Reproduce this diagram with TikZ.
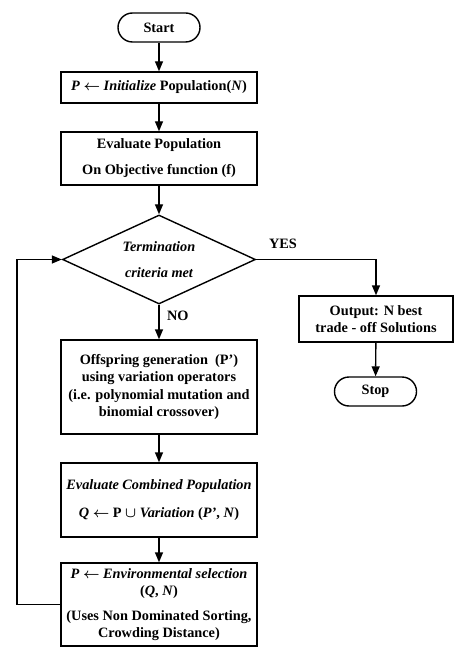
\documentclass[tikz,border=0pt]{standalone}
\usepackage{fontspec}
\setmainfont{Liberation Serif}
\usetikzlibrary{shapes.geometric,arrows.meta}

\begin{document}
\begin{tikzpicture}[x=1pt,y=-1pt,line width=1.4pt,
		font=\bfseries\boldmath\fontsize{14.3}{17.5}\selectfont,
		box/.style={draw,rectangle,minimum width=196pt,align=center,inner sep=0pt},
		endbox/.style={draw,rectangle,rounded corners=14.5pt,minimum width=82pt,minimum height=29pt,inner sep=0pt},
		flow/.style={-{Triangle[length=10pt,width=8pt]}}]
			\useasboundingbox (0,0) rectangle (474,668);
			\node[endbox] (start) at (159,27.5) {Start};
			\node[box,minimum height=31pt] (init) at (159,87.5) {\textit{P} $\leftarrow$ \textit{Initialize} Population(\textit{N})};
			\node[box,minimum height=53pt] (eval) at (159,158.5) {Evaluate Population\\[8.5pt]On Objective function (f)};
			\node[draw,diamond,aspect=2.17,minimum width=193pt,minimum height=89pt,inner sep=0pt,align=center,font=\bfseries\itshape\fontsize{14.3}{17.5}\selectfont] (crit) at (159,259.5) {Termination\\[8.5pt]criteria met};
			\node[box,minimum width=154pt,minimum height=46pt] (out) at (376,319) {Output: N best\\trade - off Solutions};
			\node[endbox] (stop) at (375.5,391.5) {Stop};
			\node[box,minimum height=94pt] (off) at (159,387) {Offspring generation~~(P’)\\using variation operators\\(i.e. polynomial mutation and\\binomial crossover)};
			\node[box,minimum height=74pt] (comb) at (159,500) {\textit{Evaluate Combined Population}\\[10pt]\textit{Q} $\leftarrow$ P $\cup$ \textit{Variation} (\textit{P'}, \textit{N})};
			\node[box,minimum height=83pt] (env) at (159,604.5) {\textit{P} $\leftarrow$ \textit{Environmental selection}\\(\textit{Q}, \textit{N})\\[7pt](Uses Non Dominated Sorting,\\Crowding Distance)};
			\coordinate (yes) at (376,259.5);
			\coordinate (back1) at (17,604.5);
			\coordinate (back2) at (17,259.5);
			\draw[flow] (start) -- (init);
			\draw[flow] (init) -- (eval);
			\draw[flow] (eval) -- (crit);
			\draw[flow] (crit.east) -- (yes) -- (out);
			\draw[flow] (out) -- (stop);
			\draw[flow] (crit) -- (off);
			\draw[flow] (off) -- (comb);
			\draw[flow] (comb) -- (env);
			\draw[flow] (env.west) -- (back1) -- (back2) -- (crit.west);
			\node[anchor=west] (yeslabel) at (265,244) {YES};
			\node[anchor=west] (nolabel) at (163,316) {NO};
		\end{tikzpicture}
\end{document}
